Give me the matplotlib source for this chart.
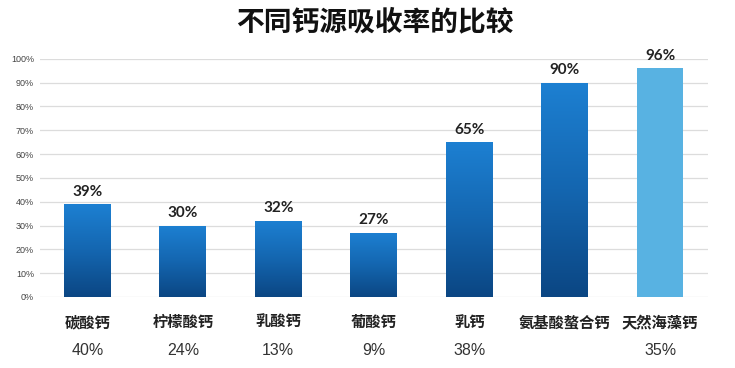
import numpy as np
import matplotlib
matplotlib.use("Agg")
import matplotlib.pyplot as plt
from matplotlib.colors import LinearSegmentedColormap
import matplotlib.transforms as mtransforms

plt.rcParams['font.family'] = ['Noto Sans CJK SC', 'DejaVu Sans']

# data
categories = ['碳酸钙', '柠檬酸钙', '乳酸钙', '葡酸钙', '乳钙', '氨基酸螯合钙', '天然海藻钙']
absorption = [39, 30, 32, 27, 65, 90, 96]
calcium_content = ['40%', '24%', '13%', '9%', '38%', '', '35%']
title = '不同钙源吸收率的比较'
yticks = list(range(0, 101, 10))

fig = plt.figure(figsize=(7.35, 3.68), dpi=100)
ax = fig.add_axes([0.054, 0.193, 0.909, 0.647])

x = np.arange(len(categories))
width = 0.49
bars = ax.bar(x, absorption, width=width, color='none', edgecolor='none', zorder=3)

# gradient fill for dark blue bars, flat light blue for the last one
cmap = LinearSegmentedColormap.from_list('blue', ['#0b4683', '#1466b0', '#1d80d2'])
grad = np.linspace(0, 1, 256).reshape(-1, 1)
for i, b in enumerate(bars):
    bx, by = b.get_x(), b.get_y()
    bw, bh = b.get_width(), b.get_height()
    if i == len(bars) - 1:
        b.set_facecolor('#58b2e2')
        continue
    im = ax.imshow(grad, extent=[bx, bx + bw, 0, bh], origin='lower',
                   cmap=cmap, aspect='auto', zorder=3)
    im.set_clip_path(b)

for xi, v in zip(x, absorption):
    ax.annotate(f'{v}%', (xi, v), xytext=(0, 4), textcoords='offset points',
                ha='center', va='bottom', fontsize=11, fontweight='bold',
                family=['Lato', 'DejaVu Sans'], color='#222222')

ax.set_xlim(-0.5, len(categories) - 0.5)
ax.set_ylim(0, 100)
ax.set_yticks(yticks)
ax.set_yticklabels([f'{t}%' for t in yticks], fontsize=6.5,
                   family=['Liberation Sans'], color='#444444')
ax.set_xticks([])
ax.tick_params(axis='y', length=0, pad=4)
ax.grid(axis='y', color='#dcdcdc', linewidth=0.9, zorder=0)
for s in ax.spines.values():
    s.set_visible(False)

trans = mtransforms.blended_transform_factory(ax.transData, ax.transAxes)
for xi, cat, c in zip(x, categories, calcium_content):
    ax.text(xi, -0.105, cat, transform=trans, ha='center', va='center',
            fontsize=11, fontweight='bold', color='#222222')
    if c:
        ax.text(xi, -0.225, c, transform=trans, ha='center', va='center',
                fontsize=11.5, family=['Liberation Sans'], color='#333333')

fig.text(0.51, 0.94, title, ha='center', va='center', fontsize=20,
         fontweight='bold', color='#111111')

fig.savefig('out.png', dpi=100)
